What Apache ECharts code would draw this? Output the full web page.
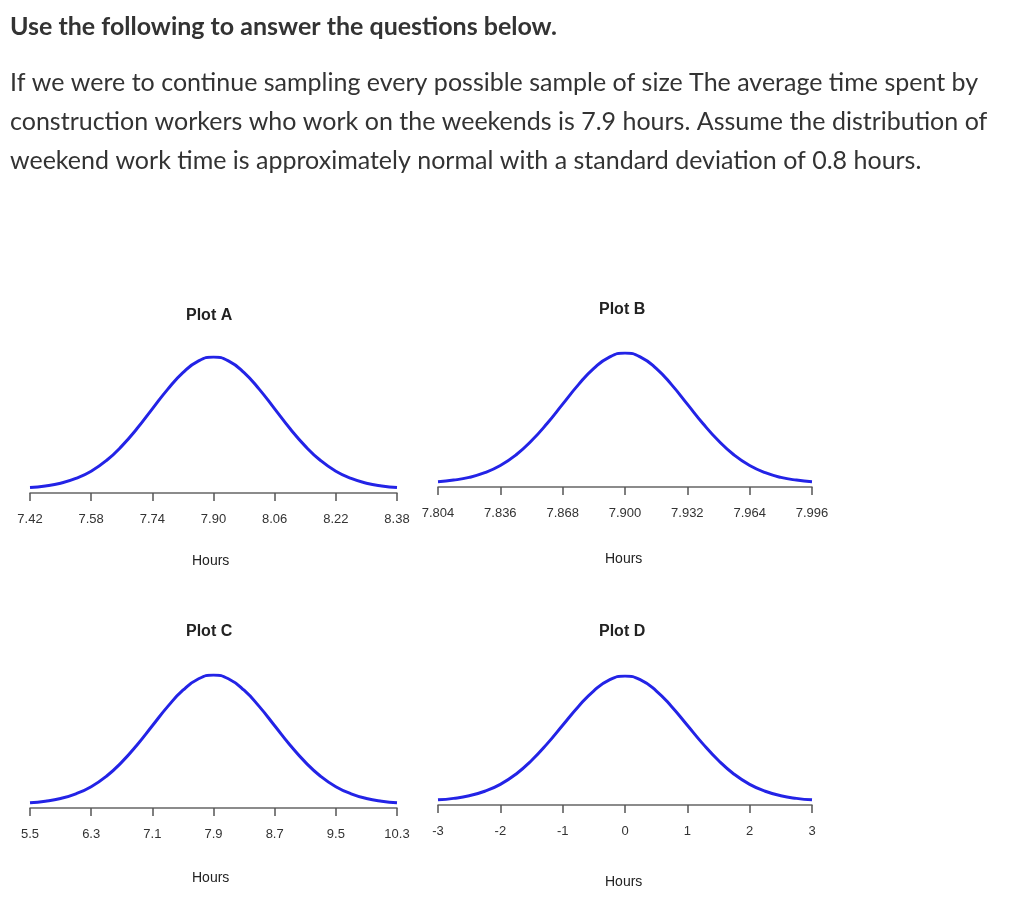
<!DOCTYPE html>
<html><head><meta charset="utf-8">
<script src="https://cdn.jsdelivr.net/npm/echarts@6/dist/echarts.min.js"></script>
<style>html,body{margin:0;padding:0;background:#fff}#c{width:1024px;height:906px}</style>
</head><body><div id="c"></div>
<script>
// z positions of curve points (standard units) and curve heights (peak = 1)
const zPoints = [-3,-2.75,-2.5,-2.25,-2,-1.75,-1.5,-1.25,-1,-0.75,-0.5,-0.25,0,0.25,0.5,0.75,1,1.25,1.5,1.75,2,2.25,2.5,2.75,3];
const heights = [0.011,0.023,0.044,0.080,0.135,0.216,0.325,0.458,0.607,0.755,0.882,0.969,1,0.969,0.882,0.755,0.607,0.458,0.325,0.216,0.135,0.080,0.044,0.023,0.011];
const ticksA = ["7.42","7.58","7.74","7.90","8.06","8.22","8.38"];
const ticksB = ["7.804","7.836","7.868","7.900","7.932","7.964","7.996"];
const ticksC = ["5.5","6.3","7.1","7.9","8.7","9.5","10.3"];
const ticksD = ["-3","-2","-1","0","1","2","3"];
const titles = ["Plot A","Plot B","Plot C","Plot D"];

const panels = [
  {left:30, right:1024-397, top:357, bottom:906-493, ticks:ticksA, tx:212, ty:318, hy:562},
  {left:438, right:1024-812, top:353, bottom:906-487, ticks:ticksB, tx:625, ty:312, hy:560},
  {left:30, right:1024-397, top:675, bottom:906-808, ticks:ticksC, tx:212, ty:634, hy:879},
  {left:438, right:1024-812, top:676, bottom:906-805, ticks:ticksD, tx:625, ty:634, hy:883}
];
const font = "Liberation Sans, Arial, sans-serif";
const grid=[],xAxis=[],yAxis=[],series=[],graphic=[];
panels.forEach((p,i)=>{
  grid.push({left:p.left,right:p.right,top:p.top,bottom:p.bottom,containLabel:false});
  xAxis.push({gridIndex:i,type:'value',min:-3,max:3,interval:1,
    axisLine:{show:true,onZero:false,lineStyle:{color:'#666',width:1.5}},
    axisTick:{show:true,length:8,inside:false,lineStyle:{color:'#555',width:1.5}},
    splitLine:{show:false},
    axisLabel:{margin:20,fontSize:13,color:'#333',fontFamily:font,
      formatter:(v)=>p.ticks[Math.round(v)+3]}});
  yAxis.push({gridIndex:i,type:'value',min:-0.03,max:1,show:false});
  series.push({type:'line',xAxisIndex:i,yAxisIndex:i,smooth:true,symbol:'none',
    data:zPoints.map((z,k)=>[z,heights[k]]),lineStyle:{color:'#2323e6',width:3}});
  graphic.push({type:'text',left:p.tx-26,top:p.ty-10,style:{text:titles[i],font:'bold 16px '+font,fill:'#222'}});
  graphic.push({type:'text',left:p.tx-20,top:p.hy-8,style:{text:'Hours',font:'14px '+font,fill:'#222'}});
});
const lines=["If we were to continue sampling every possible sample of size The average time spent by",
 "construction workers who work on the weekends is 7.9 hours. Assume the distribution of",
 "weekend work time is approximately normal with a standard deviation of 0.8 hours."];
graphic.push({type:'text',left:10,top:14,style:{text:'Use the following to answer the questions below.',font:'bold 25px Lato, sans-serif',fill:'#333'}});
lines.forEach((t,k)=>graphic.push({type:'text',left:10,top:70+k*39,style:{text:t,font:'25px Lato, sans-serif',fill:'#333'}}));
const chart=echarts.init(document.getElementById('c'));
chart.setOption({animation:false,grid,xAxis,yAxis,series,graphic});
</script></body></html>
